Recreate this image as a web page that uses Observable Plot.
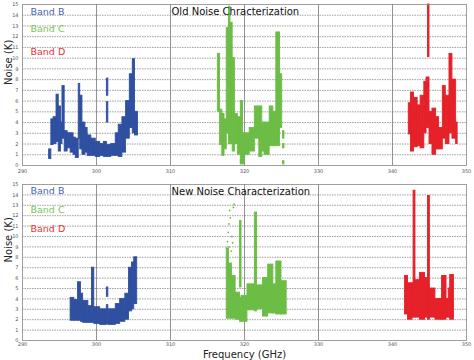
<!DOCTYPE html>
<html>
<head>
<meta charset="utf-8">
<script src="https://cdn.jsdelivr.net/npm/d3@7"></script>
<script src="https://cdn.jsdelivr.net/npm/@observablehq/plot@0.6"></script>
<style>
  html, body { margin: 0; padding: 0; background: #fff; }
  #chart { width: 474px; height: 360px; position: relative; font-family: "DejaVu Sans", sans-serif; }
  #chart svg { display: block; }
</style>
</head>
<body>
<div id="chart"></div>
<script>
// ---- data: segments [f0 (GHz), f1 (GHz), noise low (K), noise high (K)] ----
const bandNames = ["Band B", "Band C", "Band D"];
const panelTitles = ["Old Noise Chracterization", "New Noise Characterization"];
const xTicks = [290, 300, 310, 320, 330, 340, 350];
const yTicks = [0,1,2,3,4,5,6,7,8,9,10,11,12,13,14,15];

const oldB = [
  [293.6,293.9,0.6,1.5],[293.9,294.2,1.9,4.3],[294.2,294.6,2.0,4.5],[294.6,294.9,2.2,6.6],
  [294.9,295.2,1.3,5.5],[295.2,295.4,2.0,4.0],[295.4,295.7,2.5,7.4],[295.7,296.1,1.3,3.2],
  [296.1,296.5,1.6,3.0],[296.5,296.9,1.2,3.0],[296.9,297.2,1.0,2.6],[297.2,297.6,0.7,2.5],
  [297.6,297.8,2.5,7.6],[297.8,298.1,1.5,6.5],[298.1,298.5,1.0,4.0],[298.5,298.8,1.2,3.5],
  [298.8,299.3,0.9,2.8],[299.3,299.9,0.9,2.5],[299.9,300.5,0.8,2.2],[300.5,301.0,0.9,2.0],
  [301.0,301.4,0.8,2.2],[301.4,301.6,4.0,5.9],[301.4,301.6,6.5,8.1],[301.4,302.0,0.8,1.9],
  [302.0,302.6,0.9,2.0],[302.6,303.0,0.9,3.0],[303.0,303.5,0.8,3.8],[303.5,304.0,1.2,4.5],
  [304.0,304.5,2.5,6.0],[304.5,304.9,3.5,8.5],[304.9,305.2,3.0,9.9],[305.2,305.6,2.8,5.0]
];
const oldC = [
  [316.4,316.7,5.0,10.4],[316.7,317.0,1.9,5.2],[317.0,317.3,0.9,4.8],[317.3,317.6,1.5,4.3],
  [317.6,317.9,3.0,12.8],[317.9,318.1,2.0,14.8],[318.1,318.4,2.0,13.3],[318.4,318.7,1.3,10.0],
  [318.7,319.1,2.0,4.8],[319.1,319.5,1.0,4.5],[319.5,319.8,0.2,6.0],[319.8,320.0,0.5,3.0],
  [320.0,320.7,1.0,3.0],[320.7,321.4,1.3,3.5],[321.4,322.0,2.5,5.5],[322.0,322.4,0.8,5.5],
  [322.4,322.7,1.3,4.0],[322.7,323.4,1.0,4.0],[323.4,323.9,1.8,5.5],[323.9,324.3,1.8,5.0],
  [324.3,324.8,1.8,12.4],[324.8,325.1,3.5,8.5],[325.2,325.4,2.5,3.2],[325.2,325.4,1.6,2.0],
  [325.2,325.4,0.1,0.4],[319.5,320.0,0.1,0.5]
];
const oldD = [
  [342.2,342.5,2.9,5.8],[342.5,342.9,1.3,6.8],[342.9,343.4,1.7,6.3],[343.4,343.8,1.8,5.6],
  [343.8,344.3,1.6,6.5],[344.3,344.6,3.0,7.8],[344.6,345.0,3.5,8.2],[344.8,345.0,10.1,15.0],
  [345.0,345.4,2.0,5.0],[345.4,345.9,1.0,5.3],[345.9,346.3,1.5,4.5],[346.3,346.8,1.5,3.5],
  [346.8,347.2,2.5,7.4],[347.2,347.7,2.0,6.5],[347.7,348.1,3.0,10.4],[348.1,348.6,2.5,8.0],
  [348.6,348.8,2.0,4.0]
];
const newB = [
  [296.5,297.0,1.9,4.1],[297.0,297.5,1.9,3.9],[297.5,297.9,1.9,5.6],[297.9,298.2,1.8,4.5],
  [298.2,298.9,1.7,3.8],[298.9,299.4,1.7,3.3],[299.4,299.7,1.7,7.0],[299.7,300.5,1.6,3.2],
  [300.5,301.4,1.5,3.0],[301.4,301.6,1.6,3.4],[301.4,301.6,4.2,5.1],[301.6,302.6,1.5,3.0],
  [302.6,303.2,1.6,3.5],[303.2,303.9,1.8,4.0],[303.9,304.4,2.0,4.5],[304.4,304.8,2.8,7.0],
  [304.8,305.1,3.0,7.5],[305.1,305.5,3.5,8.0]
];
const newC = [
  [317.6,317.9,2.1,8.8],[317.9,318.3,2.1,7.4],[318.3,318.8,2.1,6.2],[318.8,319.4,2.0,4.6],
  [319.4,319.6,1.8,4.1],[319.4,319.6,5.1,11.5],[319.6,320.4,1.8,4.3],[320.4,321.4,2.9,5.4],
  [321.4,321.7,2.8,12.3],[321.7,322.5,3.0,5.3],[322.5,323.2,2.3,6.0],[323.2,323.9,2.6,7.3],
  [323.9,324.3,2.6,5.4],[324.3,325.0,2.5,7.6],[325.0,325.7,2.5,5.7]
];
const newCdots = [
  [317.7,9.5],[317.8,10.4],[317.9,11.2],[318.0,12.5],[317.9,9.0],[318.2,8.6],[318.3,10.0],
  [318.5,12.8],[318.6,13.1],[318.4,9.4],[317.6,8.9],[318.1,11.8]
];
const newD = [
  [341.7,342.1,2.5,6.2],[342.1,342.7,2.0,5.5],[342.7,342.85,2.2,5.5],[342.85,343.1,2.2,14.4],
  [343.1,343.7,2.2,5.8],[343.7,344.4,2.0,6.5],[344.4,344.8,2.2,6.0],[344.8,345.05,2.0,13.9],
  [345.05,345.8,2.2,5.0],[345.8,346.7,2.0,4.0],[346.7,347.3,2.0,6.2],[347.3,347.6,2.2,4.0],
  [347.6,347.8,2.2,5.0],[347.8,348.3,2.0,6.3]
];

const colors = {B: "#2f4fa0", C: "#6cbd45", D: "#e52129"};
const legendColors = ["#4866b0", "#7cc655", "#e8323a"];

function panel(title, bands, dots, opts) {
  const rects = bands.map(([arr, c]) => Plot.rect(arr, {
    x1: d => d[0], x2: d => d[1], y1: d => d[2], y2: d => d[3],
    fill: c, stroke: c, strokeWidth: 0.9, inset: 0
  }));
  const L = opts.legendDy;
  return Plot.plot({
    width: 474, height: opts.height,
    marginLeft: 22, marginRight: 8, marginTop: opts.marginTop, marginBottom: opts.marginBottom,
    style: {fontFamily: "DejaVu Sans, sans-serif", background: "#fff"},
    x: {domain: [290, 350], label: null},
    y: {domain: [0, 15], label: null},
    marks: [
      Plot.ruleY(yTicks.slice(1, -1), {stroke: "#888", strokeWidth: 0.8, strokeDasharray: "1.5,1"}),
      Plot.ruleX(opts.vlines, {stroke: "#777", strokeWidth: 0.8}),
      ...rects,
      dots ? Plot.dot(dots, {x: d => d[0], y: d => d[1], r: 0.9, fill: colors.C, stroke: null}) : null,
      Plot.frame({stroke: "#888", strokeWidth: 0.8}),
      Plot.axisX({ticks: xTicks, tickSize: 0, tickPadding: opts.tickPad, fontSize: 5, fill: "#555"}),
      Plot.axisY({ticks: yTicks, tickSize: 0, tickPadding: 4, fontSize: 5, fill: "#555"}),
      Plot.text([title], {frameAnchor: "top-left", dx: 149, dy: opts.titleDy, lineAnchor: "middle", fontSize: 10, fill: "#111", textAnchor: "start"}),
      Plot.text([bandNames[0]], {frameAnchor: "top-left", dx: 8, dy: L[0], lineAnchor: "middle", fontSize: 9.5, fill: legendColors[0], textAnchor: "start"}),
      Plot.text([bandNames[1]], {frameAnchor: "top-left", dx: 8, dy: L[1], lineAnchor: "middle", fontSize: 9.5, fill: legendColors[1], textAnchor: "start"}),
      Plot.text([bandNames[2]], {frameAnchor: "top-left", dx: 8, dy: L[2], lineAnchor: "middle", fontSize: 9.5, fill: legendColors[2], textAnchor: "start"}),
      Plot.text(["Noise (K)"], {frameAnchor: "left", dx: -14, rotate: -90, fontSize: 10, fill: "#222"}),
      opts.xlabel ? Plot.text([opts.xlabel], {frameAnchor: "bottom", dy: 14, lineAnchor: "middle", fontSize: 10, fill: "#222"}) : null
    ]
  });
}

const topPanel = panel(panelTitles[0], [[oldB, colors.B], [oldC, colors.C], [oldD, colors.D]], null,
  {height: 178, marginTop: 4, marginBottom: 13, vlines: [300, 310, 320, 330, 340], titleDy: 7, legendDy: [7, 24.5, 47], tickPad: 4});
const bottomPanel = panel(panelTitles[1], [[newB, colors.B], [newC, colors.C], [newD, colors.D]], newCdots,
  {height: 182, marginTop: 6, marginBottom: 20, vlines: [300, 310, 320, 330], xlabel: "Frequency (GHz)", titleDy: 7.5, legendDy: [6, 25.5, 44], tickPad: 2});
const el = document.getElementById("chart");
el.appendChild(topPanel);
el.appendChild(bottomPanel);
</script>
</body>
</html>
